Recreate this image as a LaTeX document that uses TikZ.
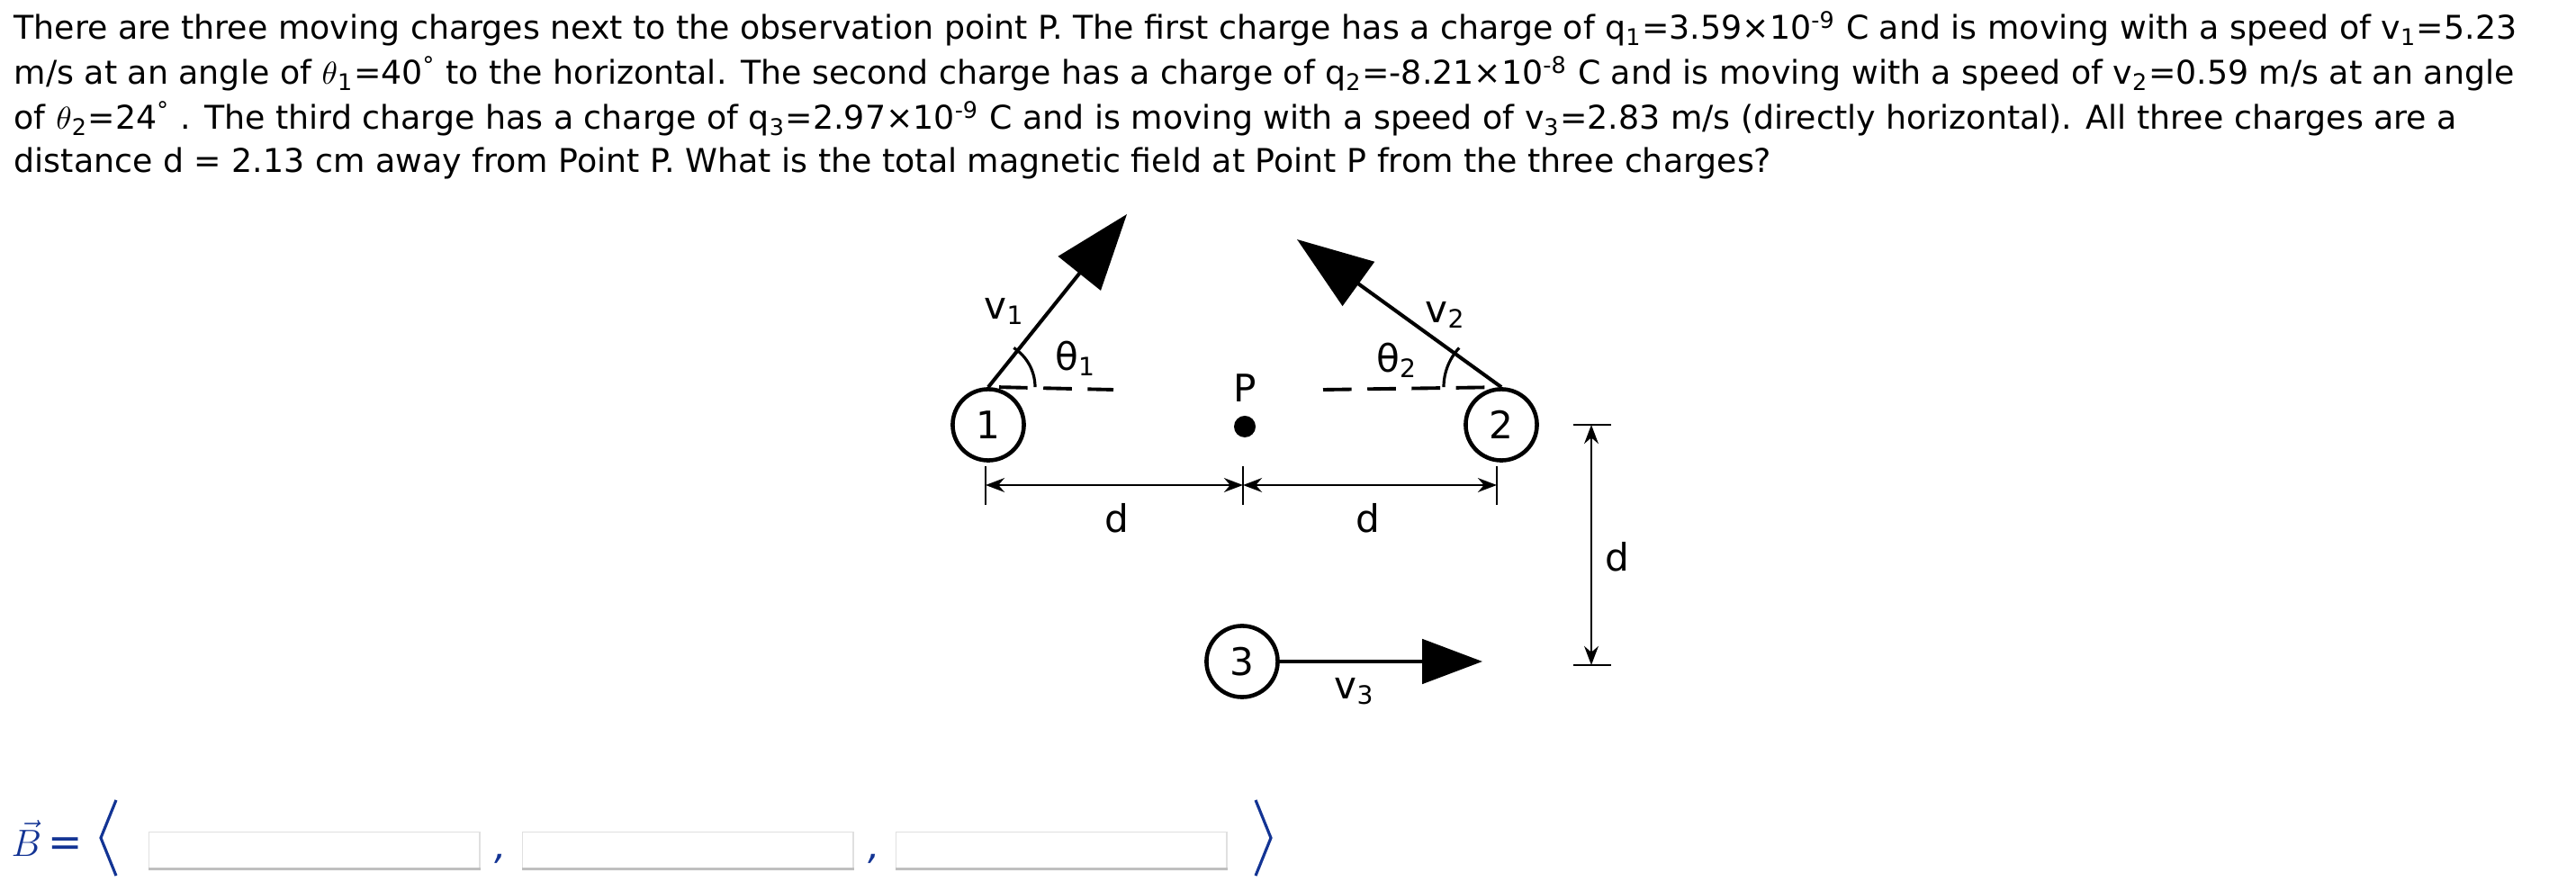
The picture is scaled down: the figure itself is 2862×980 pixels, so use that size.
\documentclass[tikz,border=0pt]{standalone}
\usepackage{fontspec}
\setmainfont{DejaVu Sans}
\usetikzlibrary{arrows.meta}
\definecolor{ansblue}{RGB}{19,52,148}
\tikzset{
  chg/.style={circle,draw,line width=1.3pt,minimum size=22.5pt,inner sep=0pt,font=\fontsize{12}{12}\selectfont},
  vel/.style={line width=1.15pt,-{Triangle[length=24pt,width=17pt]}},
  velh/.style={line width=1.15pt,-{Triangle[length=19pt,width=14pt]}},
  dim/.style={line width=0.6pt,{Stealth[length=6pt,width=4.5pt]}-{Stealth[length=6pt,width=4.5pt]}},
  tick/.style={line width=0.6pt},
  lbl/.style={font=\fontsize{12}{12}\selectfont,inner sep=0pt},
  qtext/.style={anchor=base west,inner sep=0pt,font=\fontsize{10.33}{14}\selectfont},
  ansbox/.style={draw=black!12,fill=white,minimum width=367*0.2845pt,minimum height=40*0.2845pt,inner sep=0pt,anchor=north west}
}
\newcommand{\sbs}[1]{\textsubscript{#1}}
\newcommand{\sps}[1]{\textsuperscript{#1}}
\begin{document}
\begin{tikzpicture}[x=0.01cm,y=-0.01cm]
\useasboundingbox (0,0) rectangle (2862,980);
% question text
\node[qtext] (t1) at (15,44) {There are three moving charges next to the observation point P. The first charge has a charge of q\sbs{1}=3.59×10\sps{-9} C and is moving with a speed of v\sbs{1}=5.23};
\node[qtext] (t2) at (15,94) {m/s at an angle of $\theta$\sbs{1}=40\sps{°} to the horizontal. The second charge has a charge of q\sbs{2}=-8.21×10\sps{-8} C and is moving with a speed of v\sbs{2}=0.59 m/s at an angle};
\node[qtext] (t3) at (15,144) {of $\theta$\sbs{2}=24\sps{°} . The third charge has a charge of q\sbs{3}=2.97×10\sps{-9} C and is moving with a speed of v\sbs{3}=2.83 m/s (directly horizontal). All three charges are a};
\node[qtext] (t4) at (15,192) {distance d = 2.13 cm away from Point P. What is the total magnetic field at Point P from the three charges?};
% charges
\node[chg] (c1) at (1098,472) {1};
\node[chg] (c2) at (1668,472) {2};
\node[chg] (c3) at (1380,735) {3};
\node[circle,fill,minimum size=24*0.2845pt,inner sep=0pt] (p) at (1383,474) {};
\node[lbl] (pl) at (1383,431) {P};
% velocity 1
\coordinate (v1e) at (1252,238);
\draw[vel] (c1.north) -- (v1e);
\draw[line width=1.1pt,dash pattern=on 9pt off 5pt] (c1.north) ++(12,0) coordinate (d1s) -- (1237,433) coordinate (d1e);
\draw[line width=0.9pt] (c1.north) ++(52,0) arc[start angle=0,end angle=-57,radius=52];
\node[lbl] (v1l) at (1116,346) {v\sbs{1}};
\node[lbl] (t1l) at (1195,398) {θ\sbs{1}};
% velocity 2
\coordinate (v2e) at (1441,266);
\draw[vel] (c2.north) -- (v2e);
\draw[line width=1.1pt,dash pattern=on 9pt off 5pt] (1470,433) coordinate (d2s) -- (c2.north);
\draw[line width=0.9pt] (c2.north) ++(-64,0) arc[start angle=180,end angle=223,radius=64];
\node[lbl] (v2l) at (1606,350) {v\sbs{2}};
\node[lbl] (t2l) at (1552,400) {θ\sbs{2}};
% velocity 3
\coordinate (v3e) at (1647,735);
\draw[velh] (c3.east) -- (v3e);
\node[lbl] (v3l) at (1505,768) {v\sbs{3}};
% horizontal dimensions
\coordinate (a1) at (1095,539); \coordinate (a2) at (1381,539); \coordinate (a3) at (1663,539);
\draw[tick] (1095,518) -- (1095,561);
\draw[tick] (1381,518) -- (1381,561);
\draw[tick] (1663,518) -- (1663,561);
\draw[dim] (a1) -- (a2);
\draw[dim] (a2) -- (a3);
\node[lbl] (dl1) at (1241,576) {d};
\node[lbl] (dl2) at (1520,576) {d};
% vertical dimension
\coordinate (b1) at (1768,472); \coordinate (b2) at (1768,739);
\draw[tick] (1748,472) -- (1790,472);
\draw[tick] (1748,739) -- (1790,739);
\draw[dim] (b1) -- (b2);
\node[lbl] (dl3) at (1797,619) {d};
% answer row
\node[anchor=base west,inner sep=0pt,text=ansblue,font=\fontsize{13}{13}\selectfont] (bv) at (12,952) {$\vec{B}$\,=};
\draw[ansblue,line width=0.9pt] (129,889) -- (112,931) -- (129,973);
\draw[ansblue,line width=0.9pt] (1395,889) -- (1412,931) -- (1395,973);
\node[ansbox] (b1box) at (165,924) {};
\node[ansbox] (b2box) at (580,924) {};
\node[ansbox] (b3box) at (995,924) {};
\draw[black!25,line width=1pt] (b1box.south west) -- (b1box.south east);
\draw[black!25,line width=1pt] (b2box.south west) -- (b2box.south east);
\draw[black!25,line width=1pt] (b3box.south west) -- (b3box.south east);
\node[anchor=base,inner sep=0pt,text=ansblue,font=\fontsize{12}{12}\selectfont\itshape] (cm1) at (556,955) {,};
\node[anchor=base,inner sep=0pt,text=ansblue,font=\fontsize{12}{12}\selectfont\itshape] (cm2) at (971,955) {,};
\end{tikzpicture}
\end{document}
